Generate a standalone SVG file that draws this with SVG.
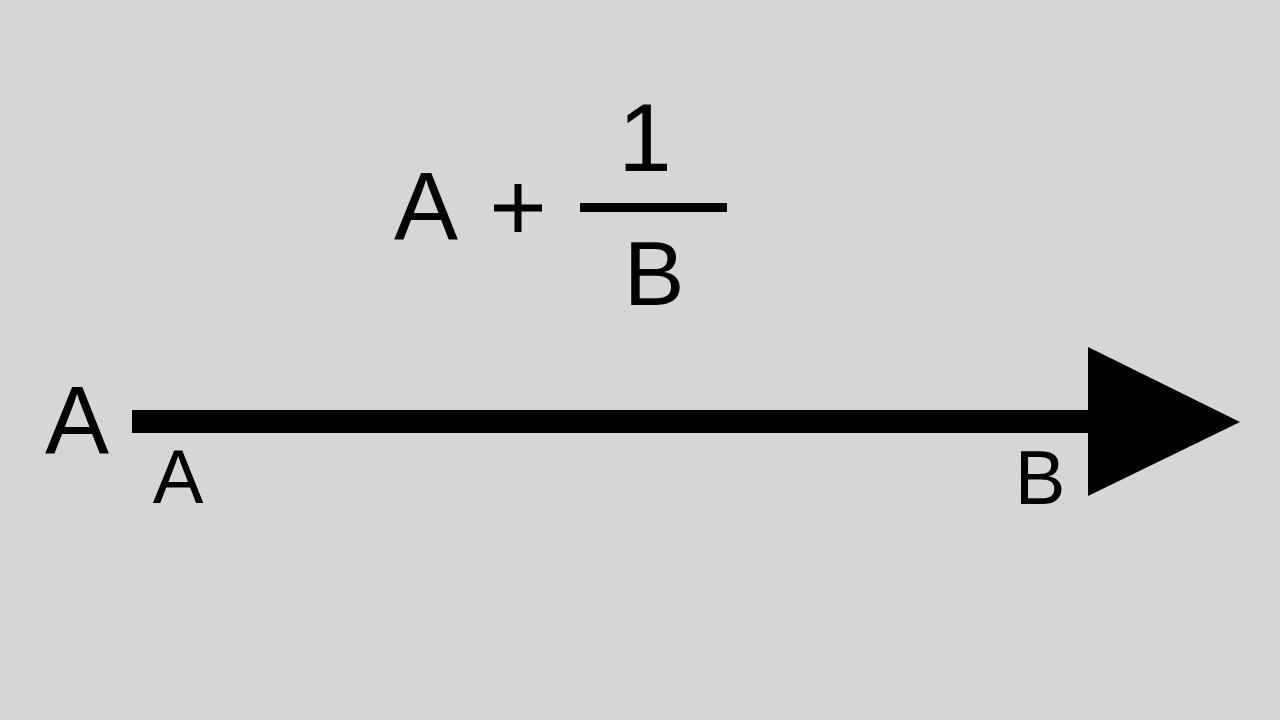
<svg xmlns="http://www.w3.org/2000/svg" width="1280" height="720" viewBox="0 0 1280 720">
  <style>
    .t { font-family: "Liberation Sans", Arial, sans-serif; fill: #000; text-anchor: middle; }
    .big { font-size: 96px; }
    .mid { font-size: 91px; }
    .small { font-size: 76px; }
  </style>
  <rect x="0" y="0" width="1280" height="720" fill="#d6d6d6"/>
  <g id="formula">
    <text class="t big" x="426" y="239">A</text>
    <rect x="494" y="204.5" width="48" height="7"/>
    <rect x="514.5" y="184" width="7" height="48"/>
    <text class="t big" x="645" y="171">1</text>
    <rect x="580" y="203" width="147" height="9"/>
    <text class="t mid" x="654" y="305">B</text>
  </g>
  <g id="label-start">
    <text class="t big" x="77" y="453">A</text>
  </g>
  <g id="connectors">
    <rect x="132" y="410" width="962" height="23"/>
    <polygon points="1088,347 1240,422 1088,496"/>
  </g>
  <g id="label-A">
    <text class="t small" x="178" y="503">A</text>
  </g>
  <g id="label-B">
    <text class="t small" x="1040" y="504">B</text>
  </g>
</svg>
